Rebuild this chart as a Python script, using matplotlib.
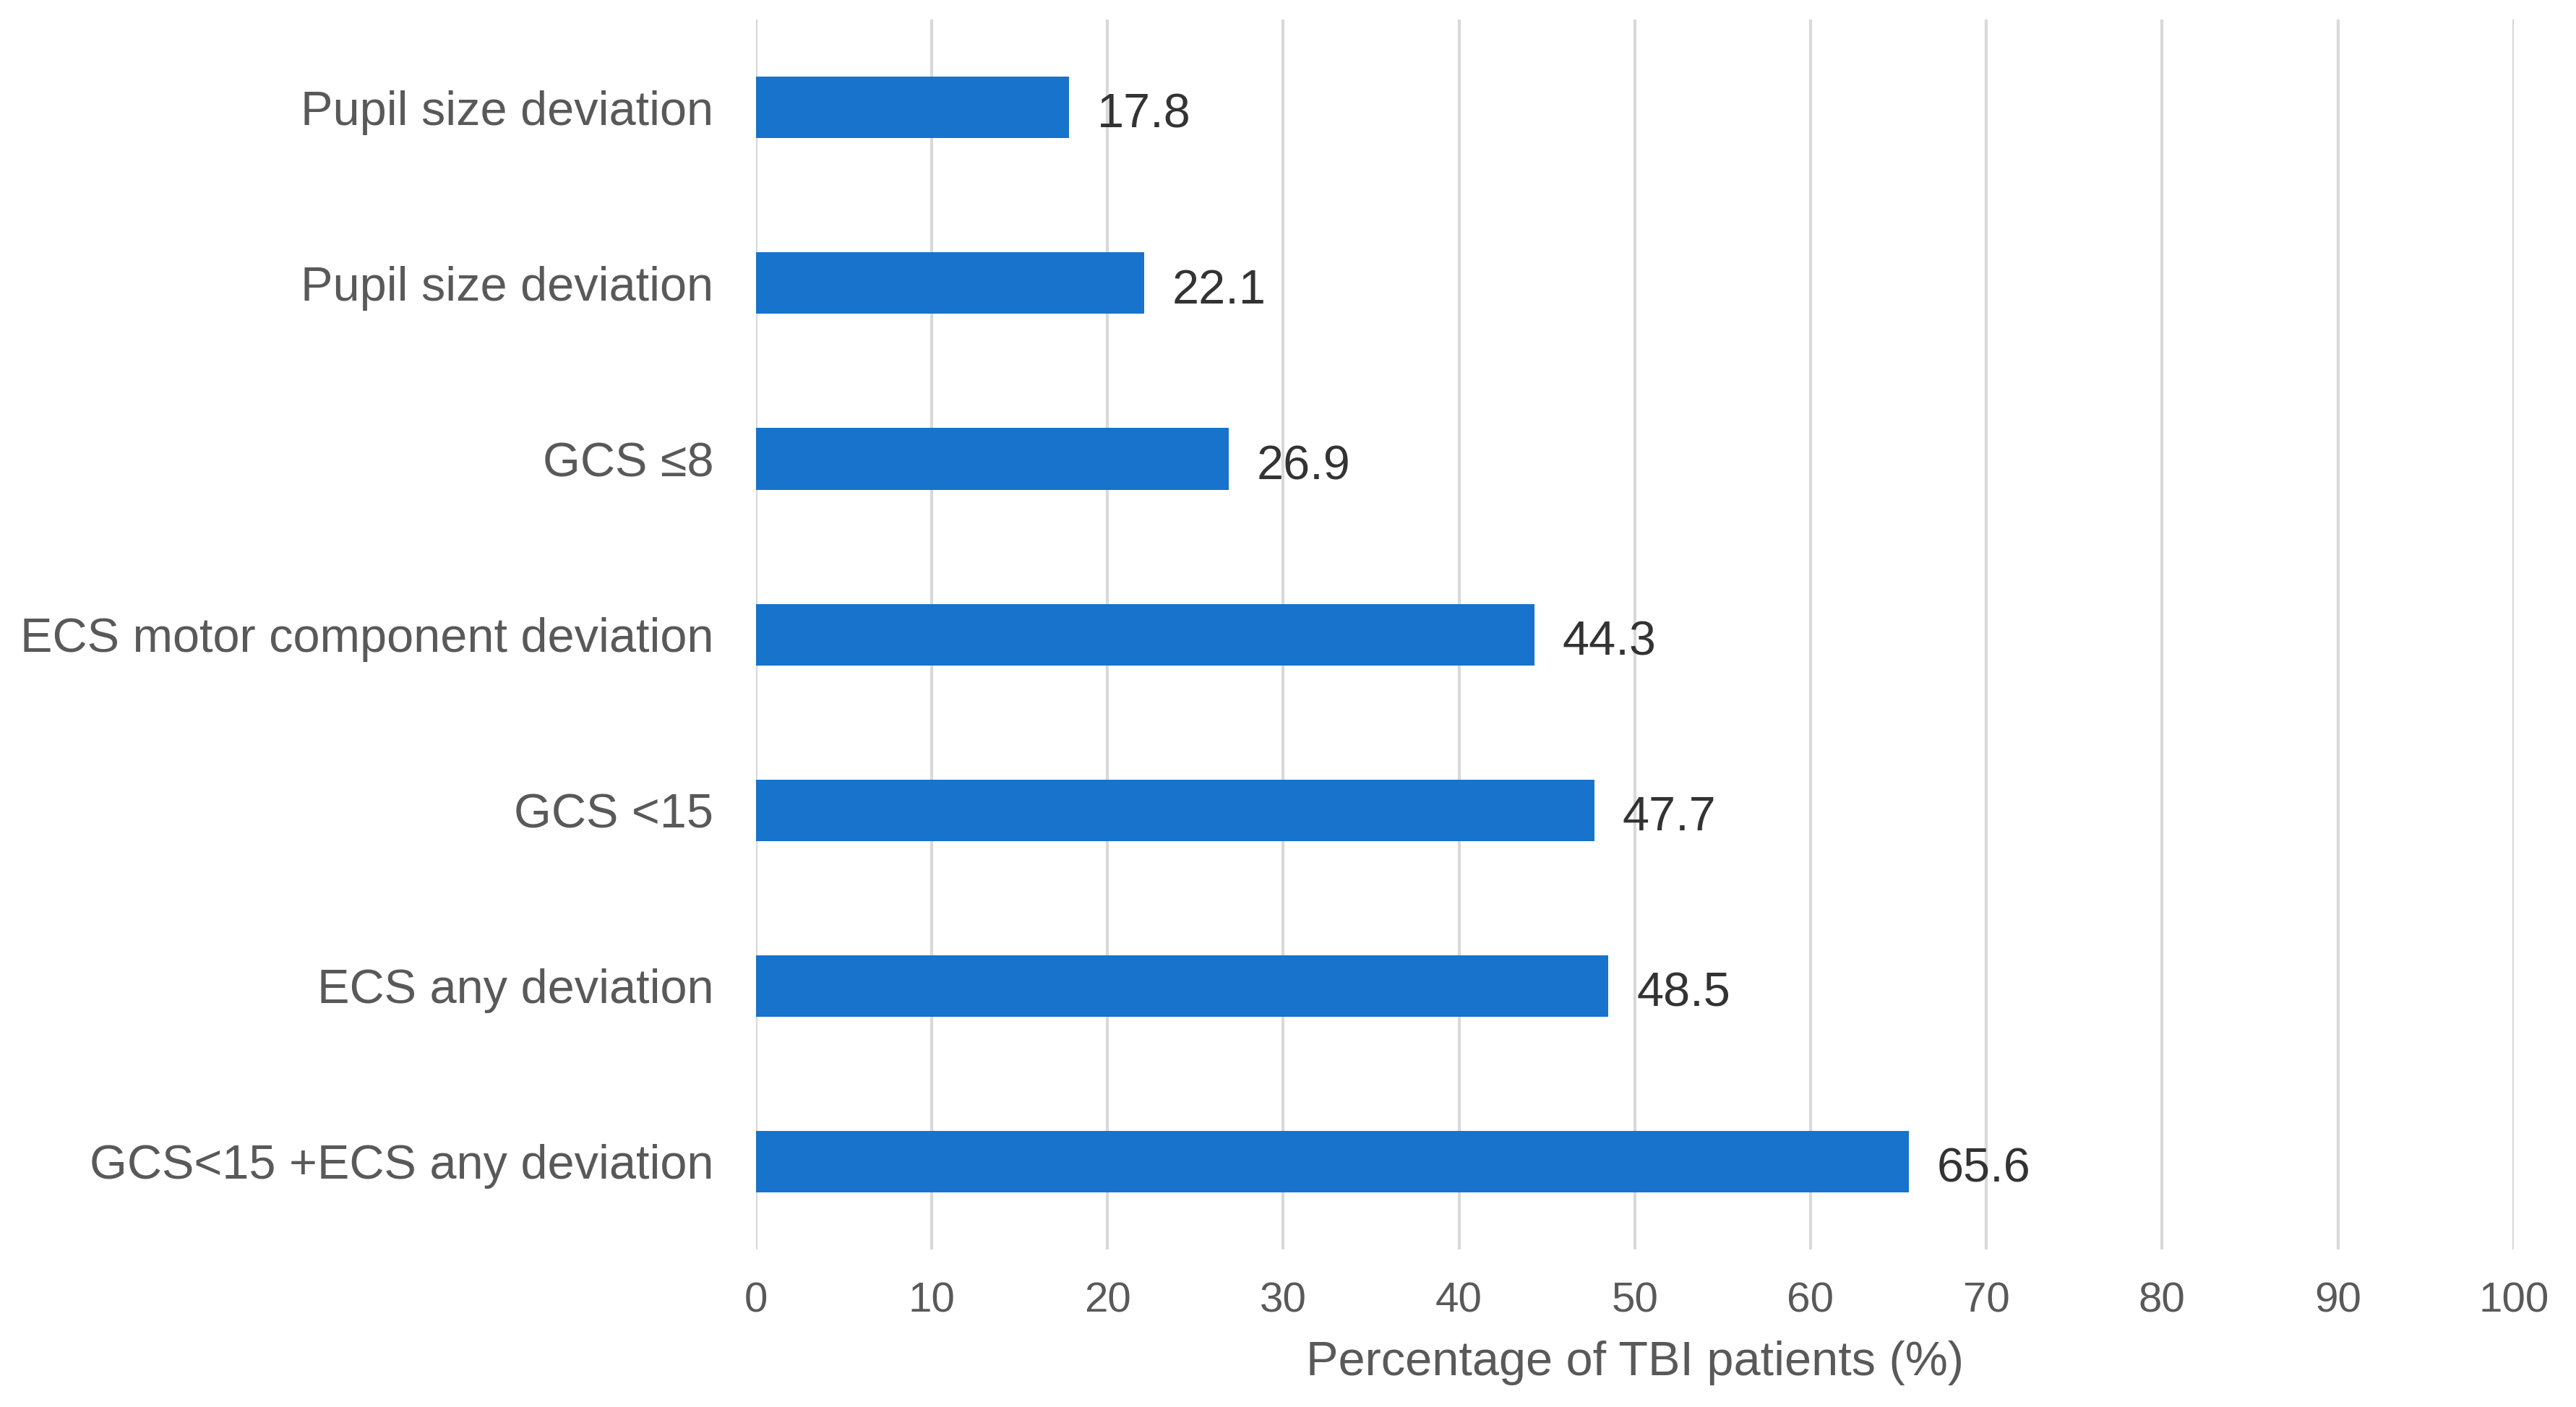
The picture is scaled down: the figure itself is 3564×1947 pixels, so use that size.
import matplotlib

matplotlib.use("Agg")
import matplotlib.pyplot as plt

# Data, top to bottom as drawn
categories = [
    "Pupil size deviation",
    "Pupil size deviation",
    "GCS \u22648",
    "ECS motor component deviation",
    "GCS <15",
    "ECS any deviation",
    "GCS<15 +ECS any deviation",
]
values = [17.8, 22.1, 26.9, 44.3, 47.7, 48.5, 65.6]
x_ticks = list(range(0, 101, 10))

BAR_COLOR = "#1773CB"
LABEL_COLOR = "#595959"
VALUE_COLOR = "#333333"

plt.rcParams["font.family"] = ["Liberation Sans", "DejaVu Sans"]

fig = plt.figure(figsize=(17.82, 9.735), dpi=200)
ax = fig.add_axes([0.2934, 0.112, 0.6824, 0.874])

ypos = list(range(len(categories)))
ax.barh(ypos, values, height=0.35, color=BAR_COLOR, zorder=3)

for y, v in zip(ypos, values):
    ax.annotate(f"{v:.1f}", xy=(v, y), xytext=(14, -4), textcoords="offset points",
                va="center", ha="left", fontsize=24, color=VALUE_COLOR)

ax.set_yticks(ypos)
ax.set_yticklabels(categories, fontsize=24, color=LABEL_COLOR)
ax.set_ylim(len(categories) - 0.5, -0.5)

ax.set_xlim(0, 100)
ax.set_xticks(x_ticks)
ax.set_xticklabels([str(t) for t in x_ticks], fontsize=21, color=LABEL_COLOR)
ax.set_xlabel("Percentage of TBI patients (%)", fontsize=24, color=LABEL_COLOR, labelpad=10)

ax.grid(axis="x", color="#D9D9D9", linewidth=1.5, zorder=0)
ax.grid(axis="y", visible=False)
for s in ax.spines.values():
    s.set_visible(False)
ax.tick_params(axis="both", length=0)
ax.tick_params(axis="y", pad=21)
ax.tick_params(axis="x", pad=16)

fig.savefig("out.png", dpi=200)
